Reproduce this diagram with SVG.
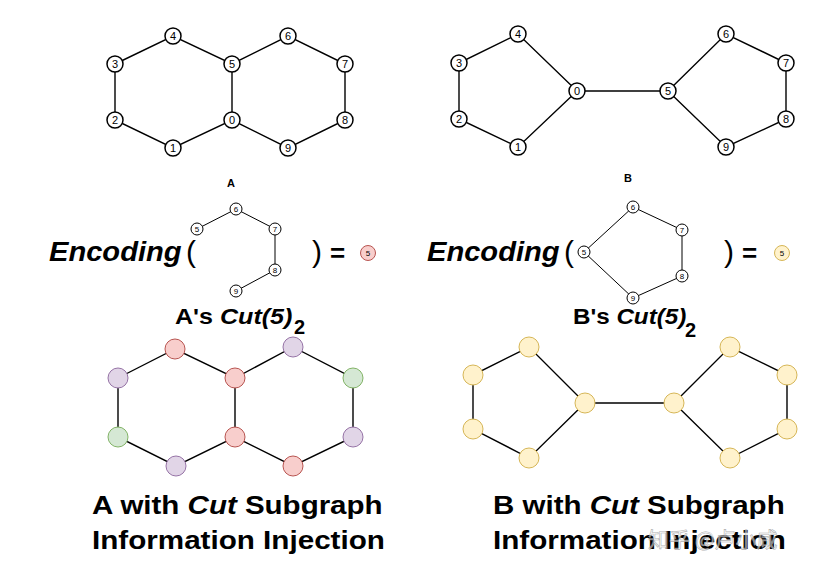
<svg xmlns="http://www.w3.org/2000/svg" width="826" height="570" viewBox="0 0 826 570">
<style>
.e{stroke:#000;stroke-width:1.4;fill:none}
.n{fill:#fff;stroke:#000;stroke-width:1.5}
.s{fill:#fff;stroke:#000;stroke-width:1}
.nt{font-family:"Liberation Sans",Arial,sans-serif;font-size:11px;text-anchor:middle;dominant-baseline:central}
.st{font-family:"Liberation Sans",Arial,sans-serif;font-size:8px;text-anchor:middle;dominant-baseline:central}
.lab{font-family:"Liberation Sans",Arial,sans-serif;font-size:11px;font-weight:bold;text-anchor:middle}
.big{font-family:"Liberation Sans",Arial,sans-serif;font-weight:bold;fill:#000}
.it{font-style:italic}
.pk{fill:#f8cecc;stroke:#b85450;stroke-width:1}
.pu{fill:#e1d5e7;stroke:#9673a6;stroke-width:1}
.gr{fill:#d5e8d4;stroke:#82b366;stroke-width:1}
.ye{fill:#fff2cc;stroke:#d6b656;stroke-width:1}
</style>
<rect width="826" height="570" fill="#fff"/>

<!-- Graph A (top) -->
<g id="edgesA" class="e">
<path d="M115,64 L173,36 L232,64 L288,36 L345,64 L345,120 L288,148 L232,120 L173,148 L115,120 Z M232,64 L232,120"/>
</g>
<g id="A0"><circle class="n" cx="232" cy="120" r="8"/><text class="nt" x="232" y="120">0</text></g>
<g id="A1"><circle class="n" cx="173" cy="148" r="8"/><text class="nt" x="173" y="148">1</text></g>
<g id="A2"><circle class="n" cx="115" cy="120" r="8"/><text class="nt" x="115" y="120">2</text></g>
<g id="A3"><circle class="n" cx="115" cy="64" r="8"/><text class="nt" x="115" y="64">3</text></g>
<g id="A4"><circle class="n" cx="173" cy="36" r="8"/><text class="nt" x="173" y="36">4</text></g>
<g id="A5"><circle class="n" cx="232" cy="64" r="8"/><text class="nt" x="232" y="64">5</text></g>
<g id="A6"><circle class="n" cx="288" cy="36" r="8"/><text class="nt" x="288" y="36">6</text></g>
<g id="A7"><circle class="n" cx="345" cy="64" r="8"/><text class="nt" x="345" y="64">7</text></g>
<g id="A8"><circle class="n" cx="345" cy="120" r="8"/><text class="nt" x="345" y="120">8</text></g>
<g id="A9"><circle class="n" cx="288" cy="148" r="8"/><text class="nt" x="288" y="148">9</text></g>
<text class="lab" x="231" y="187">A</text>

<!-- Graph B (top) -->
<g id="edgesB" class="e">
<path d="M577,91 L518,34 L459,63 L459,119 L518,147 Z M577,91 L668,91 M668,91 L726,34 L786,63 L786,119 L726,147 Z"/>
</g>
<g id="B0"><circle class="n" cx="577" cy="91" r="8"/><text class="nt" x="577" y="91">0</text></g>
<g id="B1"><circle class="n" cx="518" cy="147" r="8"/><text class="nt" x="518" y="147">1</text></g>
<g id="B2"><circle class="n" cx="459" cy="119" r="8"/><text class="nt" x="459" y="119">2</text></g>
<g id="B3"><circle class="n" cx="459" cy="63" r="8"/><text class="nt" x="459" y="63">3</text></g>
<g id="B4"><circle class="n" cx="518" cy="34" r="8"/><text class="nt" x="518" y="34">4</text></g>
<g id="B5"><circle class="n" cx="668" cy="91" r="8"/><text class="nt" x="668" y="91">5</text></g>
<g id="B6"><circle class="n" cx="726" cy="34" r="8"/><text class="nt" x="726" y="34">6</text></g>
<g id="B7"><circle class="n" cx="786" cy="63" r="8"/><text class="nt" x="786" y="63">7</text></g>
<g id="B8"><circle class="n" cx="786" cy="119" r="8"/><text class="nt" x="786" y="119">8</text></g>
<g id="B9"><circle class="n" cx="726" cy="147" r="8"/><text class="nt" x="726" y="147">9</text></g>
<text class="lab" x="628" y="182">B</text>

<!-- Encoding A -->
<text class="big it" font-size="28" transform="translate(49,261) scale(1.04,1)">Encoding</text>
<text class="big" font-size="30" x="186" y="262" style="font-weight:normal">(</text>
<g id="edgesCA" class="e" style="stroke-width:1">
<path d="M197,229 L236,209 L275,229 L275,270 L236,291"/>
</g>
<g id="CA5"><circle class="s" cx="197" cy="229" r="6"/><text class="st" x="197" y="229">5</text></g>
<g id="CA6"><circle class="s" cx="236" cy="209" r="6"/><text class="st" x="236" y="209">6</text></g>
<g id="CA7"><circle class="s" cx="275" cy="229" r="6"/><text class="st" x="275" y="229">7</text></g>
<g id="CA8"><circle class="s" cx="275" cy="270" r="6"/><text class="st" x="275" y="270">8</text></g>
<g id="CA9"><circle class="s" cx="236" cy="291" r="6"/><text class="st" x="236" y="291">9</text></g>
<text class="big" font-size="30" x="312" y="262" style="font-weight:normal">)</text>
<text class="big" font-size="26" x="330" y="262">=</text>
<g id="RA"><circle class="pk" cx="368" cy="253" r="7.5"/><text class="st" x="368" y="253">5</text></g>
<text class="big" font-size="22" transform="translate(175,324) scale(1.14,1)">A's <tspan class="it">Cut(5)</tspan></text>
<text class="big" font-size="20" x="294" y="334">2</text>

<!-- Encoding B -->
<text class="big it" font-size="28" transform="translate(427,261) scale(1.04,1)">Encoding</text>
<text class="big" font-size="30" x="564" y="262" style="font-weight:normal">(</text>
<g id="edgesCB" class="e" style="stroke-width:1">
<path d="M584,252 L633,207 L682,230 L682,276 L633,298 Z"/>
</g>
<g id="CB5"><circle class="s" cx="584" cy="252" r="6"/><text class="st" x="584" y="252">5</text></g>
<g id="CB6"><circle class="s" cx="633" cy="207" r="6"/><text class="st" x="633" y="207">6</text></g>
<g id="CB7"><circle class="s" cx="682" cy="230" r="6"/><text class="st" x="682" y="230">7</text></g>
<g id="CB8"><circle class="s" cx="682" cy="276" r="6"/><text class="st" x="682" y="276">8</text></g>
<g id="CB9"><circle class="s" cx="633" cy="298" r="6"/><text class="st" x="633" y="298">9</text></g>
<text class="big" font-size="30" x="724" y="262" style="font-weight:normal">)</text>
<text class="big" font-size="26" x="742" y="262">=</text>
<g id="RB"><circle class="ye" cx="782" cy="253" r="7.5"/><text class="st" x="782" y="253">5</text></g>
<text class="big" font-size="22" transform="translate(573,324) scale(1.1,1)">B's <tspan class="it">Cut(5)</tspan></text>
<text class="big" font-size="20" x="685" y="337">2</text>

<!-- Graph A bottom (colored) -->
<g id="edgesA2" class="e">
<path d="M118,378 L175,349 L235,378 L293,347 L353,378 L353,437 L293,466 L235,437 L176,466 L118,437 Z M235,378 L235,437"/>
</g>
<g id="D0"><circle class="pk" cx="235" cy="437" r="10"/></g>
<g id="D1"><circle class="pu" cx="176" cy="466" r="10"/></g>
<g id="D2"><circle class="gr" cx="118" cy="437" r="10"/></g>
<g id="D3"><circle class="pu" cx="118" cy="378" r="10"/></g>
<g id="D4"><circle class="pk" cx="175" cy="349" r="10"/></g>
<g id="D5"><circle class="pk" cx="235" cy="378" r="10"/></g>
<g id="D6"><circle class="pu" cx="293" cy="347" r="10"/></g>
<g id="D7"><circle class="gr" cx="353" cy="378" r="10"/></g>
<g id="D8"><circle class="pu" cx="353" cy="437" r="10"/></g>
<g id="D9"><circle class="pk" cx="293" cy="466" r="10"/></g>

<!-- Graph B bottom (colored) -->
<g id="edgesB2" class="e">
<path d="M585,403 L529,347 L473,375 L473,429 L529,458 Z M585,403 L674,403 M674,403 L730,347 L787,375 L787,429 L730,458 Z"/>
</g>
<g id="E0"><circle class="ye" cx="585" cy="403" r="10"/></g>
<g id="E1"><circle class="ye" cx="529" cy="458" r="10"/></g>
<g id="E2"><circle class="ye" cx="473" cy="429" r="10"/></g>
<g id="E3"><circle class="ye" cx="473" cy="375" r="10"/></g>
<g id="E4"><circle class="ye" cx="529" cy="347" r="10"/></g>
<g id="E5"><circle class="ye" cx="674" cy="403" r="10"/></g>
<g id="E6"><circle class="ye" cx="730" cy="347" r="10"/></g>
<g id="E7"><circle class="ye" cx="787" cy="375" r="10"/></g>
<g id="E8"><circle class="ye" cx="787" cy="429" r="10"/></g>
<g id="E9"><circle class="ye" cx="730" cy="458" r="10"/></g>

<!-- Bottom captions -->
<text class="big" font-size="26" transform="translate(92,514) scale(1.135,1)">A with <tspan class="it">Cut</tspan> Subgraph</text>
<text class="big" font-size="26" transform="translate(92,549) scale(1.14,1)">Information Injection</text>
<text class="big" font-size="26" transform="translate(493,514) scale(1.135,1)">B with <tspan class="it">Cut</tspan> Subgraph</text>
<text class="big" font-size="26" transform="translate(493,549) scale(1.14,1)">Information Injection</text>
<text x="648" y="547" font-family="'Noto Sans CJK SC',sans-serif" font-size="21" fill="#ffffff" fill-opacity="0.55" stroke="#999" stroke-width="0.6" stroke-opacity="0.8">知乎 @卢小咸</text>
</svg>
